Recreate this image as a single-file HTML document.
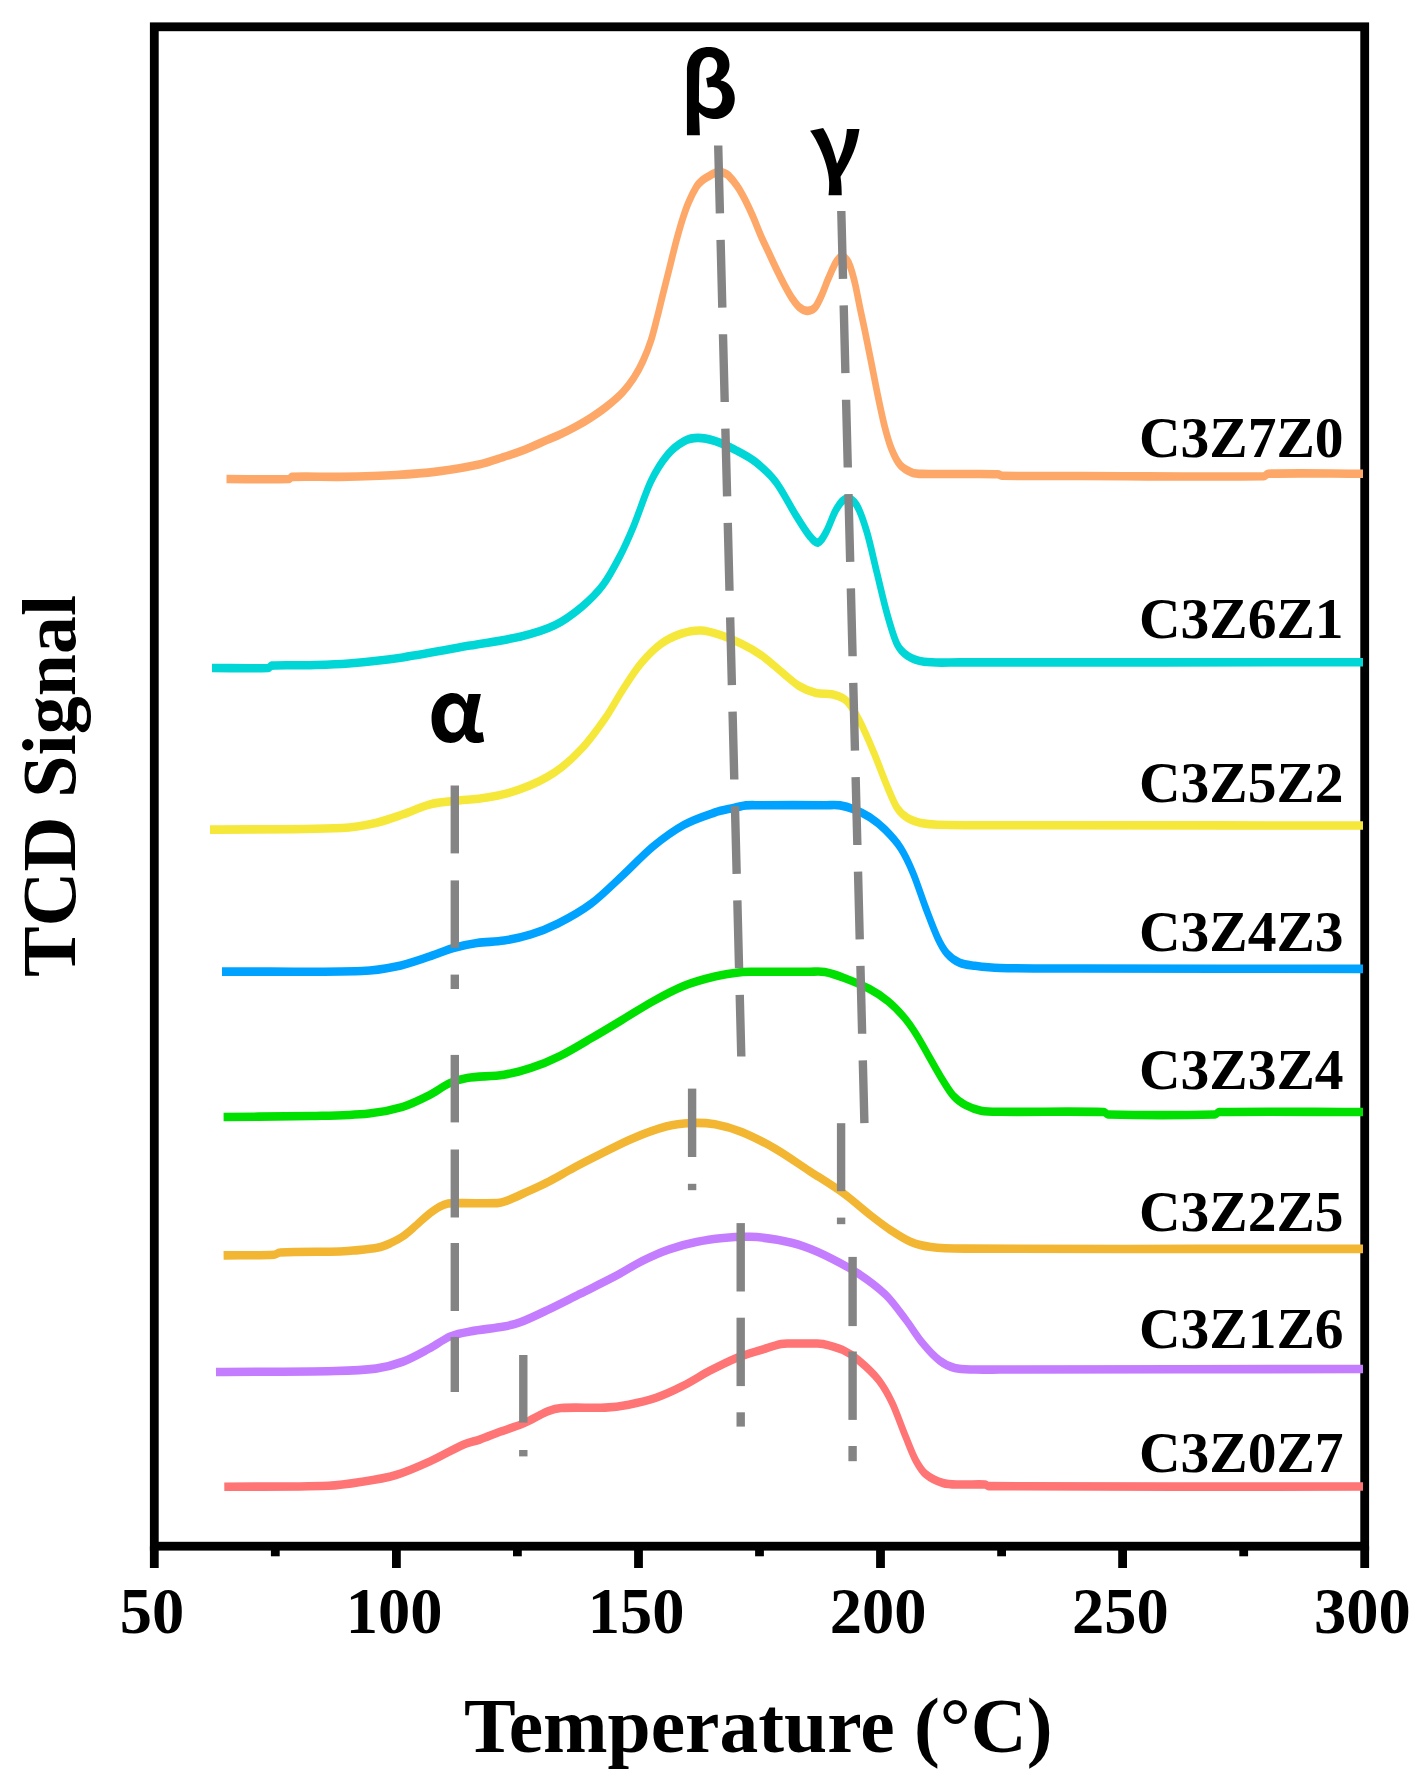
<!DOCTYPE html>
<html lang="en"><head><meta charset="utf-8"><title>TCD Signal vs Temperature</title>
<style>html,body{margin:0;padding:0;background:#fff}body{width:1421px;height:1785px;overflow:hidden}svg{display:block}</style></head>
<body>
<svg width="1421" height="1785" viewBox="0 0 1421 1785">
<rect width="1421" height="1785" fill="#fff"/>
<g stroke="#000" stroke-width="8.8" fill="none">
<rect x="154.3" y="26.8" width="1210.4" height="1519.4"/>
<path d="M154.3 1546.2V1568"/>
<path d="M275.3 1546.2V1556.3"/>
<path d="M396.4 1546.2V1568"/>
<path d="M517.4 1546.2V1556.3"/>
<path d="M638.5 1546.2V1568"/>
<path d="M759.5 1546.2V1556.3"/>
<path d="M880.5 1546.2V1568"/>
<path d="M1001.6 1546.2V1556.3"/>
<path d="M1122.6 1546.2V1568"/>
<path d="M1243.7 1546.2V1556.3"/>
<path d="M1364.7 1546.2V1568"/>
</g>
<g fill="none" stroke-width="6.62" stroke-linejoin="round" stroke-linecap="butt" transform="scale(1 1.3)">
<path stroke="#FF7474" d="M224.3 1143.7C259.0 1143.4 293.7 1143.9 328.4 1142.9C339.6 1142.6 350.8 1141.2 362.0 1139.8C373.3 1138.5 384.7 1137.2 396.0 1134.6C407.2 1132.0 418.5 1128.1 429.7 1124.2C441.0 1120.3 452.2 1115.0 463.5 1111.2C469.0 1109.4 474.5 1108.8 480.0 1107.3C486.8 1105.5 493.5 1103.2 500.3 1101.3C508.2 1099.1 516.0 1097.4 523.9 1094.8C531.8 1092.2 539.7 1088.2 547.6 1085.7C552.1 1084.3 556.6 1083.3 561.1 1083.1C575.7 1082.3 590.4 1083.3 605.0 1082.8C612.9 1082.5 620.7 1081.7 628.6 1080.5C637.6 1079.2 646.7 1077.7 655.7 1075.3C664.7 1072.9 673.7 1069.7 682.7 1066.2C691.7 1062.8 700.7 1058.1 709.7 1054.5C718.7 1050.9 727.8 1047.3 736.8 1044.5C745.8 1041.8 754.8 1040.0 763.8 1037.8C769.5 1036.4 775.3 1034.7 781.0 1033.8C784.7 1033.2 788.3 1033.5 792.0 1033.5C799.3 1033.4 806.7 1033.4 814.0 1033.5C817.0 1033.5 820.0 1033.3 823.0 1033.8C829.5 1034.9 835.9 1036.1 842.4 1038.3C847.7 1040.2 853.1 1042.7 858.4 1046.2C865.1 1050.5 871.9 1054.9 878.6 1061.5C883.1 1066.0 887.7 1071.9 892.2 1079.2C896.7 1086.5 901.2 1096.8 905.7 1105.2C909.1 1111.5 912.4 1118.6 915.8 1123.4C919.2 1128.2 922.6 1132.0 926.0 1134.2C931.6 1137.8 937.2 1139.5 942.8 1140.8C948.5 1142.1 954.3 1141.8 960.0 1141.9C968.3 1142.2 976.7 1141.5 985.0 1141.9C986.3 1142.0 987.7 1143.2 989.0 1143.2C1113.7 1143.8 1238.3 1143.4 1363.0 1143.5"/>
<path stroke="#C47DFF" d="M216.0 1055.4C255.7 1055.1 295.3 1055.3 335.0 1054.6C348.6 1054.4 362.1 1054.2 375.7 1052.8C384.7 1051.8 393.7 1050.1 402.7 1047.5C411.7 1044.9 420.7 1040.9 429.7 1037.2C436.5 1034.4 443.2 1030.3 450.0 1028.1C456.7 1025.9 463.3 1025.1 470.0 1024.2C481.3 1022.5 492.7 1022.0 504.0 1020.4C509.5 1019.6 515.0 1018.7 520.5 1017.1C529.5 1014.4 538.6 1011.0 547.6 1007.7C558.9 1003.6 570.1 999.1 581.4 994.8C592.6 990.5 603.9 986.3 615.1 981.8C624.1 978.1 633.2 973.5 642.2 970.0C651.2 966.5 660.2 963.4 669.2 961.0C678.2 958.6 687.2 956.8 696.2 955.4C705.2 953.9 714.2 953.0 723.2 952.3C732.2 951.6 741.3 951.2 750.3 951.4C759.3 951.6 768.3 952.4 777.3 953.7C786.3 954.9 795.3 956.5 804.3 958.9C813.3 961.3 822.4 964.5 831.4 968.0C840.4 971.5 849.4 975.1 858.4 979.7C867.4 984.3 876.4 989.1 885.4 995.8C892.2 1000.8 898.9 1008.2 905.7 1015.0C911.3 1020.7 917.0 1028.0 922.6 1033.2C928.2 1038.5 933.9 1043.2 939.5 1046.5C944.6 1049.5 949.6 1051.3 954.7 1052.3C961.5 1053.6 968.2 1053.3 975.0 1053.5C983.3 1053.7 991.7 1053.5 1000.0 1053.5C1121.0 1053.4 1242.0 1053.2 1363.0 1053.1"/>
<path stroke="#F2B632" d="M223.6 965.7C240.5 965.5 257.4 965.8 274.3 965.2C276.2 965.1 278.1 963.5 280.0 963.5C300.0 962.7 320.0 963.1 340.0 962.7C345.3 962.6 350.5 962.3 355.8 961.8C363.3 961.3 370.8 960.9 378.3 959.7C382.4 959.0 386.6 957.6 390.7 956.2C394.8 954.7 398.9 953.2 403.0 951.0C407.5 948.6 412.1 945.3 416.6 942.3C420.3 939.8 424.1 936.9 427.8 934.6C431.6 932.3 435.3 930.1 439.1 928.5C442.1 927.2 445.1 926.3 448.1 925.8C451.9 925.3 455.6 925.5 459.4 925.5C472.0 925.4 484.7 925.8 497.3 925.5C499.9 925.4 502.4 925.0 505.0 924.2C511.2 922.5 517.4 920.2 523.6 918.0C532.1 915.0 540.5 912.2 549.0 908.8C557.4 905.5 565.9 901.5 574.3 898.1C582.7 894.6 591.2 891.3 599.6 888.1C610.5 883.9 621.5 879.3 632.4 875.8C643.6 872.1 654.8 868.8 666.0 866.5C674.3 864.8 682.7 864.1 691.0 863.8C699.0 863.6 707.0 863.8 715.0 864.8C724.0 866.1 733.0 868.0 742.0 870.8C753.2 874.3 764.5 878.9 775.7 883.8C787.0 888.9 798.2 895.1 809.5 900.8C820.7 906.4 831.8 911.5 843.0 917.7C852.0 922.7 861.0 929.1 870.0 934.5C876.8 938.6 883.7 942.7 890.5 946.2C897.3 949.6 904.0 953.1 910.8 955.3C917.5 957.5 924.3 958.6 931.0 959.2C942.3 960.3 953.6 960.4 964.9 960.5C1097.6 960.9 1230.3 960.6 1363.0 960.7"/>
<path stroke="#00E000" d="M223.6 859.2C252.9 858.9 282.2 859.0 311.5 858.5C330.7 858.1 349.8 858.0 369.0 856.5C380.2 855.7 391.5 854.0 402.7 851.4C411.7 849.3 420.7 845.8 429.7 842.3C436.5 839.7 443.2 835.4 450.0 833.1C455.7 831.1 461.3 829.9 467.0 829.2C479.3 827.8 491.7 828.2 504.0 826.7C513.0 825.6 522.0 823.9 531.0 821.5C540.7 819.1 550.3 816.0 560.0 812.3C570.3 808.4 580.7 803.5 591.0 798.8C601.3 794.2 611.7 789.4 622.0 784.6C632.3 779.9 642.6 774.7 652.9 770.3C663.2 765.9 673.6 761.6 683.9 758.4C694.2 755.2 704.5 753.1 714.8 751.2C724.1 749.5 733.4 748.5 742.7 747.7C747.5 747.3 752.2 747.5 757.0 747.5C774.7 747.5 792.3 747.5 810.0 747.5C814.9 747.5 819.8 747.0 824.7 747.7C831.4 748.6 838.2 750.5 844.9 752.5C853.1 754.9 861.4 757.4 869.6 760.8C875.8 763.3 882.0 766.4 888.2 770.3C893.4 773.6 898.5 777.6 903.7 782.2C907.8 785.9 911.9 790.4 916.0 795.3C920.2 800.3 924.3 806.4 928.5 812.0C932.6 817.5 936.8 823.5 940.9 828.6C945.0 833.8 949.2 839.3 953.3 842.9C957.4 846.5 961.5 848.4 965.6 850.1C970.7 852.2 975.9 853.6 981.0 854.4C987.3 855.3 993.7 855.2 1000.0 855.2C1034.7 855.5 1069.3 854.7 1104.0 855.4C1105.3 855.4 1106.7 857.3 1108.0 857.3C1143.7 857.9 1179.3 857.9 1215.0 857.3C1216.3 857.3 1217.7 855.4 1219.0 855.4C1267.0 854.8 1315.0 855.4 1363.0 855.4"/>
<path stroke="#00A2FF" d="M222.0 747.4C268.7 747.2 315.3 748.0 362.0 746.9C373.3 746.7 384.7 745.4 396.0 743.5C407.2 741.7 418.5 738.5 429.7 735.7C437.6 733.7 445.5 731.0 453.4 729.2C461.3 727.5 469.1 726.3 477.0 725.4C486.0 724.4 495.0 724.6 504.0 723.5C513.0 722.4 522.0 721.0 531.0 718.8C540.0 716.7 549.0 713.9 558.0 710.4C569.0 706.1 580.0 701.5 591.0 695.2C601.3 689.3 611.7 681.2 622.0 673.8C632.3 666.5 642.6 657.8 652.9 651.2C663.2 644.7 673.6 638.9 683.9 634.5C694.2 630.2 704.5 627.7 714.8 625.0C721.0 623.4 727.2 622.6 733.4 621.5C737.5 620.7 741.7 619.9 745.8 619.5C750.5 619.2 755.3 619.4 760.0 619.4C782.0 619.3 804.0 619.3 826.0 619.4C830.7 619.4 835.5 619.0 840.2 619.5C844.9 620.1 849.5 621.2 854.2 622.6C859.3 624.2 864.5 626.0 869.6 628.6C874.7 631.2 879.9 634.2 885.0 638.1C890.2 642.1 895.4 646.1 900.6 652.3C904.7 657.2 908.9 663.9 913.0 671.5C917.1 679.0 921.3 689.3 925.4 697.7C929.5 706.0 933.6 714.7 937.7 721.5C940.8 726.6 943.9 730.7 947.0 733.4C951.1 737.0 955.3 739.1 959.4 740.5C964.6 742.3 969.7 742.4 974.9 742.9C983.3 743.8 991.6 744.5 1000.0 744.6C1026.7 745.1 1053.3 744.9 1080.0 745.0C1174.3 745.2 1268.7 745.2 1363.0 745.3"/>
<path stroke="#F5E83A" d="M210.0 638.2C254.0 637.8 298.0 638.3 342.0 636.9C353.2 636.6 364.5 635.0 375.7 633.1C384.7 631.5 393.7 628.9 402.7 626.5C411.7 624.2 420.7 620.6 429.7 618.8C437.6 617.2 445.5 616.9 453.4 616.2C464.6 615.1 475.8 615.1 487.0 613.5C498.3 612.0 509.7 610.2 521.0 606.9C532.2 603.7 543.5 599.8 554.7 594.1C563.7 589.5 572.8 583.3 581.8 575.8C589.7 569.4 597.5 561.0 605.4 552.3C610.9 546.2 616.5 538.1 622.0 531.5C628.2 524.2 634.3 516.5 640.5 510.8C647.3 504.5 654.0 499.3 660.8 495.4C667.5 491.5 674.3 489.3 681.0 487.5C687.7 485.8 694.3 484.8 701.0 485.0C707.9 485.2 714.7 487.1 721.6 488.8C728.4 490.6 735.2 492.8 742.0 495.4C748.7 497.9 755.3 500.8 762.0 504.4C768.8 508.1 775.6 513.1 782.4 517.4C787.9 520.9 793.5 525.1 799.0 527.7C804.7 530.3 810.3 532.0 816.0 533.1C821.7 534.2 827.3 533.2 833.0 534.3C837.5 535.2 842.1 535.7 846.6 539.2C851.1 542.7 855.5 548.6 860.0 555.1C864.5 561.7 869.1 570.2 873.6 578.5C878.1 586.6 882.5 596.3 887.0 604.5C890.3 610.6 893.7 617.3 897.0 621.4C900.5 625.6 903.9 627.5 907.4 629.2C911.9 631.4 916.5 632.3 921.0 633.1C926.6 634.0 932.2 634.3 937.8 634.4C958.5 634.8 979.3 634.8 1000.0 634.8C1121.0 635.0 1242.0 634.9 1363.0 635.0"/>
<path stroke="#00D6D6" d="M212.0 513.8C230.8 513.8 249.7 514.4 268.5 513.8C269.5 513.8 270.5 512.1 271.5 512.0C284.3 511.3 297.2 512.0 310.0 511.7C322.9 511.4 335.7 511.2 348.6 510.4C366.6 509.2 384.7 507.7 402.7 505.7C425.1 503.1 447.6 499.7 470.0 496.6C487.0 494.3 504.0 492.7 521.0 489.6C532.2 487.5 543.5 485.2 554.7 481.0C563.7 477.6 572.8 472.6 581.8 466.8C588.9 462.2 595.9 457.2 603.0 450.0C608.7 444.2 614.3 436.1 620.0 427.7C624.6 420.9 629.2 412.9 633.8 404.4C639.4 393.9 645.1 379.7 650.7 370.6C656.3 361.5 662.0 355.0 667.6 349.8C673.2 344.5 678.9 341.6 684.5 339.2C689.0 337.3 693.5 336.8 698.0 336.8C703.7 336.8 709.3 337.8 715.0 339.2C721.7 340.9 728.3 343.3 735.0 345.9C741.7 348.6 748.3 351.0 755.0 355.0C761.9 359.2 768.8 363.6 775.7 370.6C782.5 377.5 789.2 388.2 796.0 396.5C800.5 402.1 805.0 407.9 809.5 412.2C812.3 414.8 815.2 417.8 818.0 417.4C820.7 417.0 823.3 413.3 826.0 409.5C829.5 404.6 833.0 395.8 836.5 391.4C839.9 387.1 843.2 384.0 846.6 383.5C850.0 383.1 853.4 384.4 856.8 388.8C860.2 393.1 863.6 400.8 867.0 409.5C870.3 418.1 873.7 430.4 877.0 440.8C880.3 451.2 883.7 462.8 887.0 471.9C890.3 481.0 893.7 490.1 897.0 495.4C900.5 500.9 903.9 502.6 907.4 504.4C912.9 507.2 918.5 508.5 924.0 509.1C936.0 510.2 948.0 509.5 960.0 509.5C1094.3 509.6 1228.7 509.4 1363.0 509.4"/>
<path stroke="#FDA868" d="M226.5 368.5C247.3 368.5 268.2 369.0 289.0 368.5C290.0 368.4 291.0 366.9 292.0 366.8C308.0 366.3 324.0 367.0 340.0 366.8C358.7 366.5 377.3 366.2 396.0 365.4C409.5 364.8 423.0 364.1 436.5 362.8C451.0 361.3 465.5 359.5 480.0 357.1C487.5 355.8 495.0 353.7 502.5 351.8C510.0 350.0 517.5 348.0 525.0 345.8C532.5 343.5 540.1 340.8 547.6 338.3C551.7 336.9 555.9 335.7 560.0 334.2C565.2 332.4 570.5 330.4 575.7 328.2C580.9 326.0 586.2 323.6 591.4 321.0C596.6 318.4 601.8 315.7 607.0 312.5C612.2 309.3 617.5 306.0 622.7 301.7C626.4 298.7 630.0 295.1 633.7 290.8C636.8 287.1 640.0 282.8 643.1 277.5C645.7 273.1 648.4 268.1 651.0 261.8C653.1 256.9 655.2 250.0 657.3 243.8C659.4 237.6 661.4 230.8 663.5 224.5C665.6 218.0 667.7 211.6 669.8 205.2C671.9 198.7 674.0 191.9 676.1 185.8C678.2 179.8 680.3 174.0 682.4 168.9C684.5 163.9 686.5 159.4 688.6 155.7C691.2 151.0 693.9 146.9 696.5 143.6C698.3 141.3 700.2 140.1 702.0 138.9C704.3 137.4 706.7 136.5 709.0 135.4C710.8 134.5 712.7 133.6 714.5 133.1C716.0 132.6 717.6 132.3 719.1 132.3C720.6 132.3 722.0 132.5 723.5 132.9C725.1 133.4 726.6 133.7 728.2 134.8C731.2 137.1 734.2 139.8 737.2 143.1C739.8 146.0 742.4 149.6 745.0 153.5C747.6 157.4 750.3 161.8 752.9 166.5C755.5 171.1 758.2 176.6 760.8 181.2C763.4 185.9 766.1 189.9 768.7 194.2C771.3 198.6 774.0 203.1 776.6 207.2C779.2 211.4 781.9 215.5 784.5 219.3C787.1 223.0 789.7 226.7 792.3 229.7C794.6 232.3 796.8 234.8 799.1 236.2C801.7 237.9 804.4 239.0 807.0 239.1C809.6 239.2 812.3 238.8 814.9 236.7C817.1 234.9 819.4 230.9 821.6 227.2C823.9 223.4 826.1 218.2 828.4 214.2C830.6 210.1 832.9 206.1 835.1 202.8C836.4 200.9 837.7 199.7 839.0 198.6C839.9 197.8 840.9 197.3 841.8 197.2C842.9 197.2 843.9 197.6 845.0 198.3C846.2 199.1 847.4 200.1 848.6 202.0C849.7 203.8 850.9 206.3 852.0 209.2C853.1 212.1 854.3 215.4 855.4 219.3C856.9 224.6 858.5 231.2 860.0 236.9C861.6 242.7 863.1 248.0 864.7 253.8C867.0 262.3 869.2 271.0 871.5 279.7C873.7 288.3 876.0 297.5 878.2 305.7C880.5 314.0 882.7 322.4 885.0 329.1C887.3 335.8 889.5 341.7 891.8 345.9C894.6 351.2 897.4 355.3 900.2 357.7C904.1 361.1 908.1 362.2 912.0 363.5C915.4 364.5 918.8 364.5 922.2 364.5C934.8 364.8 947.4 364.6 960.0 364.6C972.7 364.7 985.3 364.4 998.0 364.8C999.3 364.9 1000.7 366.0 1002.0 366.0C1028.0 366.4 1054.0 366.1 1080.0 366.2C1141.3 366.2 1202.7 367.0 1264.0 366.4C1265.3 366.4 1266.7 364.4 1268.0 364.4C1299.7 363.7 1331.3 364.4 1363.0 364.4"/>
</g>
<g stroke="#848484" stroke-width="8.4" fill="none">
<path d="M718.2 145.5L741.3 1056.5" stroke-dasharray="67.8 26.6"/>
<path d="M841.3 211L864.4 1123.2" stroke-dasharray="67.8 26.6"/>
<path d="M454.8 785.5V853.4"/>
<path d="M454.8 880.4V947.8"/>
<path d="M454.8 974.6V989"/>
<path d="M454.8 1054.9V1122.4"/>
<path d="M454.8 1149.5V1217.5"/>
<path d="M454.8 1243V1311"/>
<path d="M454.8 1337V1392"/>
<path d="M692.1 1088.6V1157"/>
<path d="M692.1 1183.8V1190.2"/>
<path d="M841.1 1123.2V1191.2"/>
<path d="M841.1 1217.6V1224.2"/>
<path d="M740.7 1223.1V1291.5"/>
<path d="M740.7 1317.7V1386.1"/>
<path d="M740.7 1412.3V1426.6"/>
<path d="M852.6 1256.9V1326.1"/>
<path d="M852.6 1351.5V1419.9"/>
<path d="M852.6 1446V1461.2"/>
<path d="M523.3 1355V1422.6"/>
<path d="M523.3 1450V1456.4"/>
</g>
<g font-family="'Liberation Serif',serif" font-weight="bold" fill="#000">
<g font-size="64.5" text-anchor="middle">
<text x="152.0" y="1633">50</text>
<text x="394.1" y="1633">100</text>
<text x="636.2" y="1633">150</text>
<text x="878.2" y="1633">200</text>
<text x="1120.3" y="1633">250</text>
<text x="1362.4" y="1633">300</text>
</g>
<g font-size="57.5" text-anchor="end">
<text x="1343.5" y="456.6">C3Z7Z0</text>
<text x="1343.5" y="638.3">C3Z6Z1</text>
<text x="1343.5" y="801.8">C3Z5Z2</text>
<text x="1343.5" y="950.6">C3Z4Z3</text>
<text x="1343.5" y="1088.5">C3Z3Z4</text>
<text x="1343.5" y="1230.8">C3Z2Z5</text>
<text x="1343.5" y="1347.8">C3Z1Z6</text>
<text x="1343.5" y="1471.5">C3Z0Z7</text>
</g>
<text x="758.3" y="1751.5" font-size="77.5" text-anchor="middle">Temperature (°C)</text>
<text transform="translate(75.2 786) rotate(-90)" font-size="76" text-anchor="middle">TCD Signal</text>
</g>
<g font-family="'Noto Sans CJK SC','Liberation Sans',sans-serif" font-weight="bold" fill="#000" font-size="87">
<text x="680.2" y="117.8">β</text>
<text x="810" y="178.2">γ</text>
<text x="427.7" y="742" font-size="86">α</text>
</g>
</svg>
</body></html>
